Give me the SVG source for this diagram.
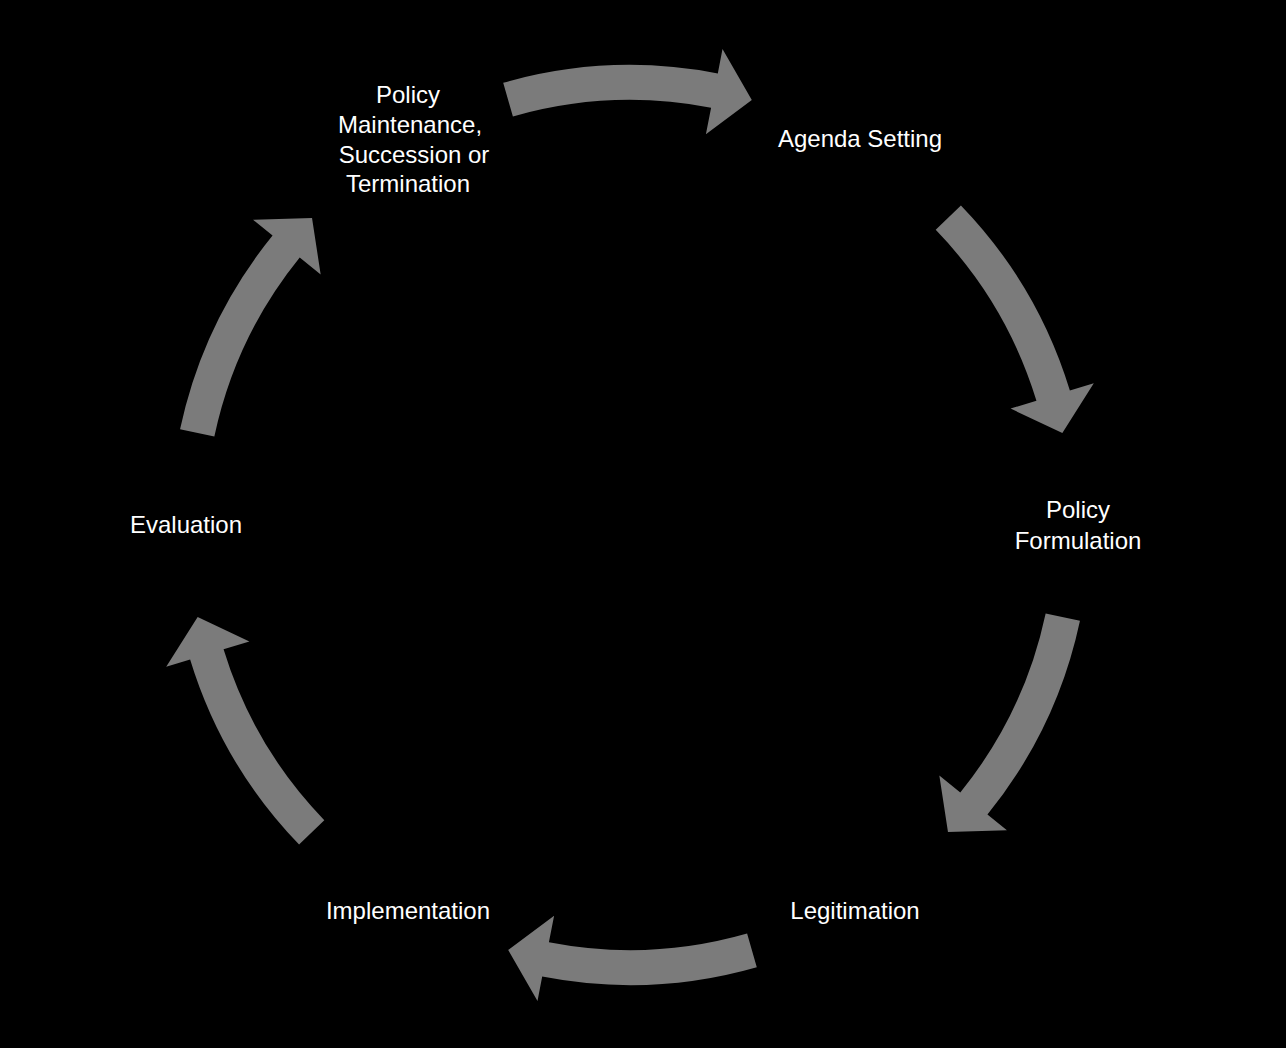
<svg xmlns="http://www.w3.org/2000/svg" width="1286" height="1048" viewBox="0 0 1286 1048">
<style>
.lbl{font-family:"Liberation Sans",Arial,sans-serif;font-size:24px;fill:#ffffff;text-anchor:middle}
.arr{fill:#7b7b7b}
</style>
<defs>
<path id="a" d="M-126.8,-442.2 A460,460 0 0 1 87.8,-451.5 L92.5,-476.1 L121.8,-424.9 L75.9,-390.7 L81.1,-417.2 A425,425 0 0 0 -117.1,-408.5 Z"/>
</defs>
<rect width="1286" height="1048" fill="#000"/>
<g id="connectors" class="arr">
<use href="#a" transform="translate(630,525) rotate(0)"/>
<use href="#a" transform="translate(630,525) rotate(62)"/>
<use href="#a" transform="translate(630,525) rotate(118)"/>
<use href="#a" transform="translate(630,525) rotate(180)"/>
<use href="#a" transform="translate(630,525) rotate(242)"/>
<use href="#a" transform="translate(630,525) rotate(298)"/>
</g>
<g id="maintenance"><text class="lbl"><tspan x="408" y="103">Policy</tspan><tspan x="410" y="133">Maintenance,</tspan><tspan x="414" y="163">Succession or</tspan><tspan x="408" y="192">Termination</tspan></text></g>
<g id="agenda"><text class="lbl" x="860" y="147">Agenda Setting</text></g>
<g id="formulation"><text class="lbl"><tspan x="1078" y="518">Policy</tspan><tspan x="1078" y="549">Formulation</tspan></text></g>
<g id="legitimation"><text class="lbl" x="855" y="919">Legitimation</text></g>
<g id="implementation"><text class="lbl" x="408" y="919">Implementation</text></g>
<g id="evaluation"><text class="lbl" x="186" y="533">Evaluation</text></g>
</svg>
